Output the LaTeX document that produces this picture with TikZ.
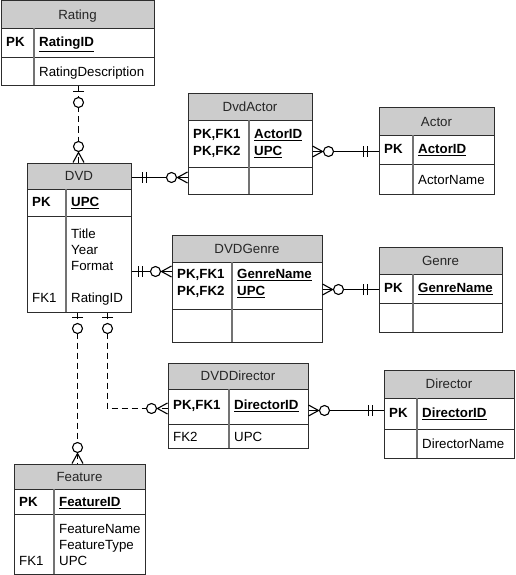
\documentclass[tikz,border=0pt]{standalone}
\usepackage{fontspec}
\setmainfont{Liberation Sans}
\usetikzlibrary{fit}
\definecolor{hdrfill}{RGB}{204,204,204}
\definecolor{edgecol}{RGB}{45,45,45}
\tikzset{
  tblframe/.style={draw=edgecol, line width=1pt, inner sep=0pt},
  rowline/.style={draw=edgecol, line width=0.9pt},
  colline/.style={draw=black!55, line width=1.4pt},
  basefont/.style={font=\fontsize{13.3}{16}\selectfont},
  ttl/.style={inner sep=0pt, basefont, text=black!85, text height=9.6pt, text depth=0pt},
  fld/.style={anchor=west, inner sep=0pt, basefont, text height=9.6pt, text depth=0pt},
  key/.style={fld, font=\fontsize{13.3}{16}\selectfont\bfseries},
  rel/.style={line width=1.1pt, draw=black, line cap=butt},
  opt/.style={rel, dash pattern=on 6pt off 4pt},
  zeroone/.pic={\draw[rel] (5,-5.5)--(5,5.5); \draw[rel,fill=white] (16,0) circle (5);},
  onlyone/.pic={\draw[rel] (11,-5.5)--(11,5.5) (15,-5.5)--(15,5.5);},
  onlyoneb/.pic={\draw[rel] (7,-5.5)--(7,5.5) (11,-5.5)--(11,5.5);},
  zeromany/.pic={\draw[rel] (0,-5.5)--(10,0)--(0,5.5); \draw[rel,fill=white] (16,0) circle (5);}
}
% #1 name, #2 left, #3 top, #4 right, #5 header bottom, #6 row divider, #7 bottom, #8 column divider, #9 title
\newcommand\ertable[9]{%
  \fill[hdrfill] (#2,#3) rectangle (#4,#5);
  \draw[rowline] (#2,#5) -- (#4,#5);
  \draw[rowline] (#2,#6) -- (#4,#6);
  \draw[colline] (#8,#5) -- (#8,#7);
  \node[ttl] (#1-title) at ({(#2+#4)/2},{(#3+#5)/2}) {#9};
  \node[tblframe, fit={(#2,#3) (#4,#7)}] (#1) {};
}
\begin{document}
\begin{tikzpicture}[x=1pt,y=-1pt]
\fill[white] (0,0) rectangle (515,575);
\useasboundingbox (0,0) rectangle (515,575);

% Rating
\ertable{rating}{1}{1}{154}{28}{57}{86}{34}{Rating}
\node[key] (rating-k1) at (6,42) {PK};
\node[key] (rating-f1) at (39,42) {\underline{RatingID}};
\node[fld] (rating-f2) at (39,72) {RatingDescription};

% DvdActor
\ertable{dvdactor}{188}{94}{312}{120}{167}{194}{249}{DvdActor}
\node[key] (dvdactor-k1) at (193,134) {PK,FK1};
\node[key] (dvdactor-k2) at (193,151) {PK,FK2};
\node[key] (dvdactor-f1) at (254,134) {\underline{ActorID}};
\node[key] (dvdactor-f2) at (254,151) {\underline{UPC}};

% Actor
\ertable{actor}{379}{108}{494}{135}{164}{194}{413}{Actor}
\node[key] (actor-k1) at (384,149) {PK};
\node[key] (actor-f1) at (418,149) {\underline{ActorID}};
\node[fld] (actor-f2) at (418,180) {ActorName};

% DVD
\ertable{dvd}{27}{163}{131}{189}{216}{312}{66}{DVD}
\node[key] (dvd-k1) at (32,202) {PK};
\node[key] (dvd-f1) at (71,202) {\underline{UPC}};
\node[fld] (dvd-f2) at (71,234) {Title};
\node[fld] (dvd-f3) at (71,250) {Year};
\node[fld] (dvd-f4) at (71,266) {Format};
\node[fld] (dvd-k2) at (32,298) {FK1};
\node[fld] (dvd-f5) at (71,298) {RatingID};

% DVDGenre
\ertable{dvdgenre}{172}{235}{322}{262}{309}{342}{232}{DVDGenre}
\node[key] (dvdgenre-k1) at (177,274) {PK,FK1};
\node[key] (dvdgenre-k2) at (177,291) {PK,FK2};
\node[key] (dvdgenre-f1) at (237,274) {\underline{GenreName}};
\node[key] (dvdgenre-f2) at (237,291) {\underline{UPC}};

% Genre
\ertable{genre}{379}{247}{502}{274}{303}{332}{413}{Genre}
\node[key] (genre-k1) at (384,288) {PK};
\node[key] (genre-f1) at (418,288) {\underline{GenreName}};

% DVDDirector
\ertable{dvddirector}{168}{363}{308}{389}{424}{448}{229}{DVDDirector}
\node[key] (dvddirector-k1) at (173,405) {PK,FK1};
\node[key] (dvddirector-f1) at (234,405) {\underline{DirectorID}};
\node[fld] (dvddirector-k2) at (173,437) {FK2};
\node[fld] (dvddirector-f2) at (234,437) {UPC};

% Director
\ertable{director}{384}{370}{514}{398}{429}{458}{417}{Director}
\node[key] (director-k1) at (389,413) {PK};
\node[key] (director-f1) at (422,413) {\underline{DirectorID}};
\node[fld] (director-f2) at (422,444) {DirectorName};

% Feature
\ertable{feature}{14}{464}{145}{489}{514}{574}{54}{Feature}
\node[key] (feature-k1) at (19,502) {PK};
\node[key] (feature-f1) at (59,502) {\underline{FeatureID}};
\node[fld] (feature-f2) at (59,529) {FeatureName};
\node[fld] (feature-f3) at (59,545) {FeatureType};
\node[fld] (feature-k2) at (19,561) {FK1};
\node[fld] (feature-f4) at (59,561) {UPC};

% Relationships
\draw[opt] ([xshift=78pt]rating.south west) coordinate (c1a) -- ([xshift=52pt]dvd.north west) coordinate (c1b);
\pic[rotate=-90] at (c1a) {zeroone};
\pic[rotate=90] at (c1b) {zeromany};

\draw[rel] ([yshift=-15pt]dvd.north east) coordinate (c2a) -- ([yshift=-84pt]dvdactor.north west) coordinate (c2b);
\pic at (c2a) {onlyone};
\pic[rotate=180] at (c2b) {zeromany};

\draw[rel] ([yshift=-58pt]dvdactor.north east) coordinate (c3a) -- ([yshift=-44pt]actor.north west) coordinate (c3b);
\pic at (c3a) {zeromany};
\pic[rotate=180] at (c3b) {onlyone};

\draw[rel] ([yshift=-109pt]dvd.north east) coordinate (c4a) -- ([yshift=-37pt]dvdgenre.north west) coordinate (c4b);
\pic at (c4a) {onlyoneb};
\pic[rotate=180] at (c4b) {zeromany};

\draw[rel] ([yshift=-55pt]dvdgenre.north east) coordinate (c5a) -- ([yshift=-43pt]genre.north west) coordinate (c5b);
\pic at (c5a) {zeromany};
\pic[rotate=180] at (c5b) {onlyone};

\draw[opt] ([xshift=51pt]dvd.south west) coordinate (c6a) -- ([xshift=64pt]feature.north west) coordinate (c6b);
\pic[rotate=-90] at (c6a) {zeroone};
\pic[rotate=90] at (c6b) {zeromany};

\draw[opt] ([xshift=81pt]dvd.south west) coordinate (c7a) |- ([yshift=-46pt]dvddirector.north west) coordinate (c7b);
\pic[rotate=-90] at (c7a) {zeroone};
\pic[rotate=180] at (c7b) {zeromany};

\draw[rel] ([yshift=-48pt]dvddirector.north east) coordinate (c8a) -- ([yshift=-41pt]director.north west) coordinate (c8b);
\pic at (c8a) {zeromany};
\pic[rotate=180] at (c8b) {onlyone};
\end{tikzpicture}
\end{document}
